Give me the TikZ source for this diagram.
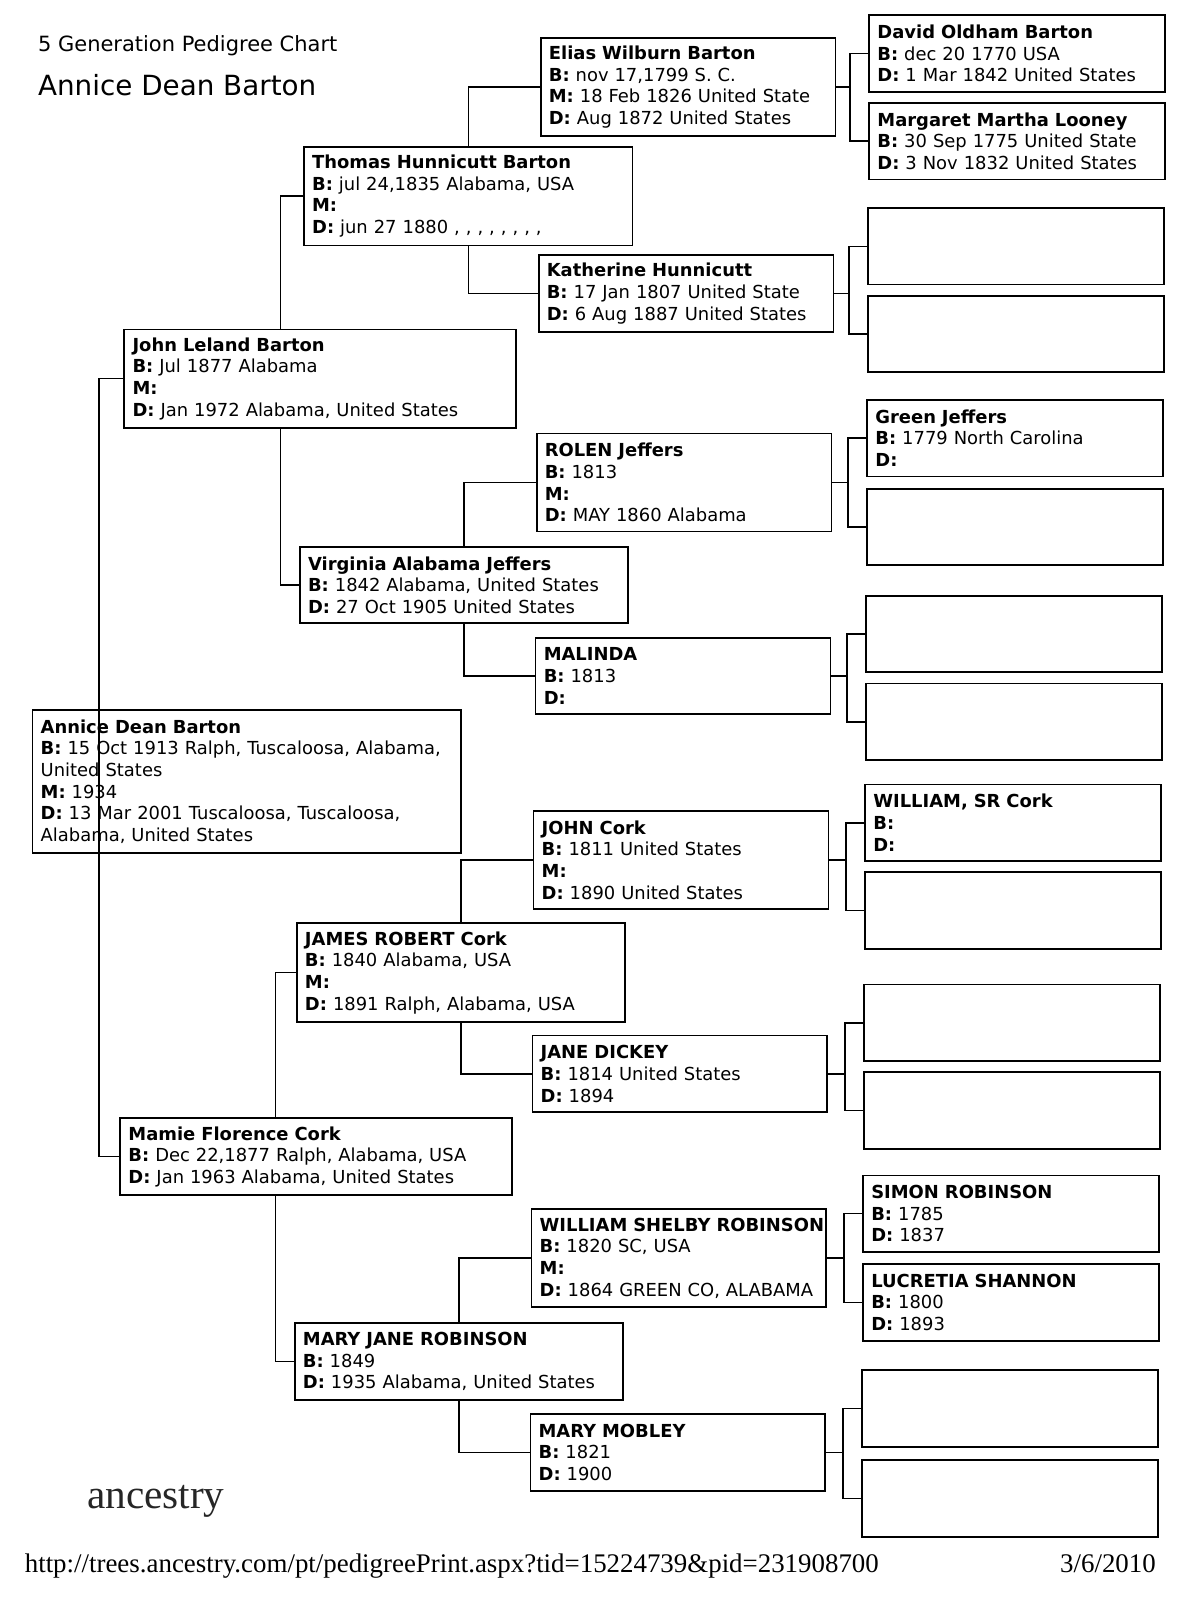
\documentclass[tikz,border=0pt]{standalone}
\usepackage{fontspec}
\setmainfont{DejaVu Sans}
\newfontfamily\footfont{Liberation Serif}
\usepackage{tikz}
\usetikzlibrary{backgrounds}

\newcommand{\tag}[1]{\textbf{#1:}}

\tikzset{
    person/.style={draw, line width=1pt, fill=white, anchor=north west, inner sep=0.16cm,
        align=left, font=\fontsize{10}{12.1}\selectfont},
    gen4/.style={person, text width=5.48cm, minimum height=1.5cm},
    gen3/.style={person, text width=5.46cm},
    gen2/.style={person, text width=6.12cm},
    gen1/.style={person, text width=7.36cm},
    fourline/.style={minimum height=1.92cm},
    threeline/.style={minimum height=1.5cm},
    link/.style={line width=0.8pt}
}

\begin{document}
\begin{tikzpicture}[x=0.02cm, y=-0.02cm]
    \useasboundingbox (0,0) rectangle (1163,1568);

    % Heading
    \node[anchor=base west, inner sep=0, font=\fontsize{11.7}{14}\selectfont] (title) at (37,50) {5 Generation Pedigree Chart};
    \node[anchor=base west, inner sep=0, font=\fontsize{15.5}{18}\selectfont] (subject) at (37,94) {Annice Dean Barton};

    % Generation 4
    \node[gen4] (david) at (851,14) {\textbf{David Oldham Barton}\\ \tag{B} dec 20 1770 USA\\ \tag{D} 1 Mar 1842 United States};
    \node[gen4] (margaret) at (851,100) {\textbf{Margaret Martha Looney}\\ \tag{B} 30 Sep 1775 United State\\ \tag{D} 3 Nov 1832 United States};
    \node[gen4] (blank3) at (850,203) {};
    \node[gen4] (blank4) at (850,289) {};
    \node[gen4] (green) at (849,391) {\textbf{Green Jeffers}\\ \tag{B} 1779 North Carolina\\ \tag{D}};
    \node[gen4] (blank6) at (849,478) {};
    \node[gen4] (blank7) at (848,583) {};
    \node[gen4] (blank8) at (848,669) {};
    \node[gen4] (wcork) at (847,768) {\textbf{WILLIAM, SR Cork}\\ \tag{B}\\ \tag{D}};
    \node[gen4] (blank10) at (847,854) {};
    \node[gen4] (blank11) at (846,964) {};
    \node[gen4] (blank12) at (846,1050) {};
    \node[gen4] (simon) at (845,1151) {\textbf{SIMON ROBINSON}\\ \tag{B} 1785\\ \tag{D} 1837};
    \node[gen4] (lucretia) at (845,1238) {\textbf{LUCRETIA SHANNON}\\ \tag{B} 1800\\ \tag{D} 1893};
    \node[gen4] (blank15) at (844,1342) {};
    \node[gen4] (blank16) at (844,1430) {};

    % Generation 3
    \node[gen3, fourline] (elias) at (529,36) {\textbf{Elias Wilburn Barton}\\ \tag{B} nov 17,1799 S. C.\\ \tag{M} 18 Feb 1826 United State\\ \tag{D} Aug 1872 United States};
    \node[gen3, threeline] (katherine) at (527,249) {\textbf{Katherine Hunnicutt}\\ \tag{B} 17 Jan 1807 United State\\ \tag{D} 6 Aug 1887 United States};
    \node[gen3, fourline] (rolen) at (525,424) {\textbf{ROLEN Jeffers}\\ \tag{B} 1813\\ \tag{M}\\ \tag{D} MAY 1860 Alabama};
    \node[gen3, threeline] (malinda) at (524,624) {\textbf{MALINDA}\\ \tag{B} 1813\\ \tag{D}};
    \node[gen3, fourline] (jcork) at (522,794) {\textbf{JOHN Cork}\\ \tag{B} 1811 United States\\ \tag{M}\\ \tag{D} 1890 United States};
    \node[gen3, threeline] (jane) at (521,1014) {\textbf{JANE DICKEY}\\ \tag{B} 1814 United States\\ \tag{D} 1894};
    \node[gen3, fourline] (wshelby) at (520,1184) {\mbox{\textbf{WILLIAM SHELBY ROBINSON}}\\ \tag{B} 1820 SC, USA\\ \tag{M}\\ \tag{D} 1864 GREEN CO, ALABAMA};
    \node[gen3, threeline] (mobley) at (519,1385) {\textbf{MARY MOBLEY}\\ \tag{B} 1821\\ \tag{D} 1900};

    % Generation 2
    \node[gen2, fourline] (thomas) at (297,143) {\textbf{Thomas Hunnicutt Barton}\\ \tag{B} jul 24,1835 Alabama, USA\\ \tag{M}\\ \tag{D} jun 27 1880 ,\ ,\ ,\ ,\ ,\ ,\ ,\ ,};
    \node[gen2, threeline] (virginia) at (293,535) {\textbf{Virginia Alabama Jeffers}\\ \tag{B} 1842 Alabama, United States\\ \tag{D} 27 Oct 1905 United States};
    \node[gen2, fourline] (james) at (290,904) {\textbf{JAMES ROBERT Cork}\\ \tag{B} 1840 Alabama, USA\\ \tag{M}\\ \tag{D} 1891 Ralph, Alabama, USA};
    \node[gen2, threeline] (maryjane) at (288,1296) {\textbf{MARY JANE ROBINSON}\\ \tag{B} 1849\\ \tag{D} 1935 Alabama, United States};

    % Generation 1
    \node[gen1, fourline] (john) at (121,322) {\textbf{John Leland Barton}\\ \tag{B} Jul 1877 Alabama\\ \tag{M}\\ \tag{D} Jan 1972 Alabama, United States};
    \node[gen1, threeline] (mamie) at (117,1095) {\textbf{Mamie Florence Cork}\\ \tag{B} Dec 22,1877 Ralph, Alabama, USA\\ \tag{D} Jan 1963 Alabama, United States};

    % Generation 0
    \node[person, fill=none, text width=8.08cm, minimum height=2.8cm] (annice) at (31,695) {\textbf{Annice Dean Barton}\\ \tag{B} 15 Oct 1913 Ralph, Tuscaloosa, Alabama,\\ United States\\ \tag{M} 1934\\ \tag{D} 13 Mar 2001 Tuscaloosa, Tuscaloosa,\\ Alabama, United States};

    \begin{pgfonlayer}{background}
        % Links 0 -> 1
        \draw[link] (john.west) -- ++(-24,0) |- (mamie.west);

        % Links 1 -> 2
        \draw[link] (thomas.west) -| ([xshift=-0.78cm]john.north);
        \draw[link] ([xshift=-0.78cm]john.south) |- (virginia.west);
        \draw[link] (james.west) -| ([xshift=-0.8cm]mamie.north);
        \draw[link] ([xshift=-0.8cm]mamie.south) |- (maryjane.west);

        % Links 2 -> 3
        \draw[link] (elias.west) -| (thomas.north);
        \draw[link] (thomas.south) |- (katherine.west);
        \draw[link] (rolen.west) -| (virginia.north);
        \draw[link] (virginia.south) |- (malinda.west);
        \draw[link] (jcork.west) -| (james.north);
        \draw[link] (james.south) |- (jane.west);
        \draw[link] (wshelby.west) -| (maryjane.north);
        \draw[link] (maryjane.south) |- (mobley.west);
    \end{pgfonlayer}

    % Links 3 -> 4
    \foreach \kid/\pa/\ma in {elias/david/margaret, katherine/blank3/blank4,
        rolen/green/blank6, malinda/blank7/blank8, jcork/wcork/blank10,
        jane/blank11/blank12, wshelby/simon/lucretia, mobley/blank15/blank16} {
        \path (\pa.west) ++(-18,0) coordinate (joint);
        \draw[link] (\pa.west) -- (joint) |- (\ma.west);
        \draw[link] (\kid.east) -- (\kid.east -| joint);
    }

    % Footer
    \node[anchor=base west, inner sep=0, text=black!85, font=\footfont\fontsize{23}{26}\selectfont] (logo) at (85,1478) {ancestry};
    \node[anchor=base west, inner sep=0, font=\footfont\fontsize{15}{18}\selectfont] (url) at (24,1541) {http://trees.ancestry.com/pt/pedigreePrint.aspx?tid=15224739\&pid=231908700};
    \node[anchor=base east, inner sep=0, font=\footfont\fontsize{15}{18}\selectfont] (date) at (1133,1541) {3/6/2010};
\end{tikzpicture}
\end{document}
